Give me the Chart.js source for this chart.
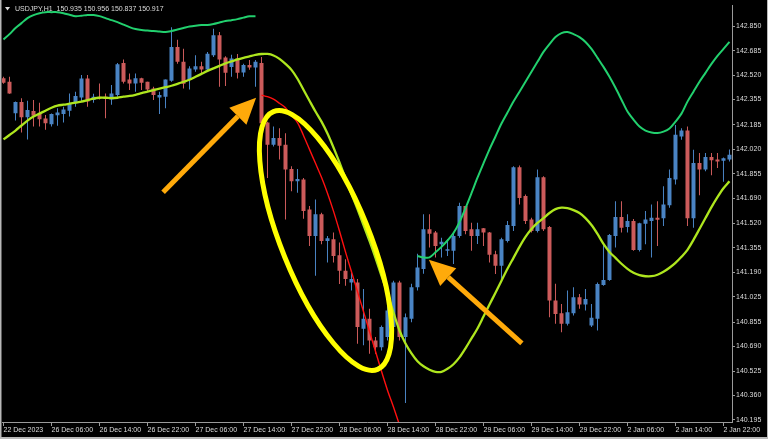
<!DOCTYPE html>
<html>
<head>
<meta charset="utf-8">
<script src="https://cdn.jsdelivr.net/npm/chart.js@4.4.1/dist/chart.umd.min.js"></script>
<style>
  html, body { margin: 0; padding: 0; background: #000; }
  #wrap { width: 768px; height: 439px; }
</style>
</head>
<body>
<div id="wrap"><canvas id="chart" width="768" height="439"></canvas></div>
<script>
// USDJPY H1 candles, one entry per bar (bar 0 = left edge of the chart)
const opens = [
  142.498,142.475,142.262,142.339,142.235,142.278,142.258,142.227,142.188,142.249,
  142.258,142.280,142.334,142.369,142.497,142.352,142.374,142.374,142.356,142.385,
  142.602,142.490,142.463,142.499,142.475,142.430,142.369,142.374,142.481,142.709,
  142.609,142.486,142.557,142.580,142.557,142.654,142.788,142.638,142.575,142.631,
  142.537,142.587,142.571,142.602,142.200,142.050,142.095,142.050,141.887,141.804,
  141.816,141.614,141.435,141.581,141.402,141.413,141.306,141.201,141.122,141.122,
  140.810,140.877,140.731,140.686,140.754,140.821,141.122,140.754,140.877,141.089,
  141.212,141.480,141.458,141.380,141.335,141.335,141.435,141.637,141.480,141.435,
  141.487,141.458,141.313,141.234,141.402,141.502,141.898,141.704,141.547,141.469,
  141.831,141.496,141.000,140.914,140.843,140.914,141.022,140.973,140.832,140.877,
  141.105,141.138,141.435,141.563,141.496,141.536,141.340,141.518,141.536,141.558,
  141.554,141.643,141.816,142.106,142.146,141.554,141.927,141.883,141.967,141.950,
  141.943,141.950
];
const highs = [
  142.508,142.508,142.341,142.363,142.347,142.352,142.334,142.251,142.260,142.296,
  142.307,142.396,142.408,142.520,142.520,142.394,142.463,142.396,142.453,142.602,
  142.624,142.530,142.530,142.501,142.475,142.441,142.408,142.490,142.843,142.758,
  142.698,142.580,142.654,142.609,142.676,142.832,142.810,142.647,142.656,142.662,
  142.597,142.622,142.622,142.642,142.206,142.173,142.161,142.128,141.905,141.887,
  141.826,141.637,141.681,141.592,141.435,141.458,141.391,141.279,141.189,141.145,
  141.078,140.944,140.754,140.832,141.000,141.134,141.134,140.912,141.114,141.315,
  141.581,141.581,141.469,141.424,141.415,141.458,141.659,141.637,141.525,141.525,
  141.489,141.462,141.335,141.424,141.536,141.905,141.911,141.715,141.558,141.883,
  141.838,141.502,141.114,140.977,141.067,141.089,141.045,141.078,140.977,141.122,
  141.380,141.449,141.670,141.670,141.581,141.549,141.525,141.603,141.648,141.670,
  141.771,141.883,142.184,142.161,142.173,142.017,141.994,141.994,141.994,141.994,
  141.965,142.019
];
const lows = [
  142.461,142.394,142.213,142.133,142.086,142.173,142.173,142.151,142.173,142.178,
  142.200,142.240,142.307,142.341,142.307,142.334,142.356,142.229,142.320,142.374,
  142.463,142.419,142.408,142.419,142.408,142.352,142.258,142.296,142.475,142.597,
  142.430,142.423,142.542,142.530,142.553,142.642,142.441,142.446,142.508,142.497,
  142.508,142.555,142.441,142.173,141.826,142.039,141.950,141.547,141.737,141.726,
  141.551,141.368,141.167,141.380,141.256,141.256,141.112,141.100,141.067,140.709,
  140.698,140.642,140.642,140.664,140.731,140.798,140.731,140.309,140.854,141.067,
  141.181,141.357,141.290,141.290,141.301,141.246,141.424,141.447,141.335,141.382,
  141.368,141.256,141.179,141.134,141.391,141.469,141.648,141.516,141.458,141.458,
  141.469,140.888,140.843,140.787,140.832,140.899,140.944,140.933,140.821,140.798,
  141.100,141.134,141.357,141.458,141.458,141.335,141.330,141.380,141.290,141.368,
  141.502,141.625,141.782,142.084,141.502,141.491,141.710,141.871,141.844,141.893,
  141.800,141.938
];
const closes = [
  142.468,142.396,142.339,142.235,142.285,142.245,142.222,142.195,142.258,142.267,
  142.287,142.325,142.379,142.497,142.341,142.374,142.365,142.361,142.396,142.593,
  142.475,142.463,142.499,142.468,142.423,142.385,142.385,142.490,142.709,142.609,
  142.461,142.564,142.580,142.557,142.664,142.788,142.624,142.535,142.631,142.535,
  142.587,142.571,142.609,142.195,142.050,142.095,142.043,141.883,141.804,141.820,
  141.603,141.435,141.581,141.402,141.420,141.301,141.201,141.145,141.145,140.821,
  140.877,140.731,140.686,140.821,140.933,141.122,140.754,140.888,141.089,141.223,
  141.480,141.451,141.368,141.397,141.346,141.435,141.637,141.469,141.435,141.480,
  141.458,141.308,141.234,141.413,141.509,141.898,141.692,141.536,141.469,141.831,
  141.480,141.000,140.910,140.843,140.921,141.022,140.973,141.011,140.884,141.112,
  141.138,141.442,141.563,141.491,141.536,141.340,141.521,141.547,141.558,141.545,
  141.648,141.826,142.117,142.146,141.554,141.927,141.883,141.967,141.945,141.938,
  141.960,141.983
];

// indicator lines
const upperBand = [
  142.760,142.796,142.837,142.870,142.904,142.924,142.937,142.944,142.944,142.944,
  142.937,142.927,142.917,142.920,142.925,142.924,142.917,142.904,142.890,142.877,
  142.860,142.843,142.830,142.823,142.820,142.817,142.813,142.810,142.817,142.827,
  142.837,142.847,142.853,142.857,142.857,142.864,142.874,142.884,142.890,142.897,
  142.907,142.916,142.917,
  null,null,null,null,null,null,null,null,null,null,null,null,null,
  null,null,null,null,null,null,null,null,null,null,null,null,null,
  141.301,141.291,141.291,141.325,141.362,141.405,141.455,141.529,141.623,141.724,
  141.828,141.925,142.019,142.106,142.193,142.267,142.341,142.408,142.475,142.542,
  142.609,142.676,142.729,142.776,142.803,142.810,142.796,142.776,142.743,142.696,
  142.636,142.575,142.508,142.434,142.354,142.274,142.220,142.173,142.146,142.133,
  142.129,142.139,142.160,142.206,142.260,142.341,142.408,142.475,142.535,142.595,
  142.649,142.696,142.743
];
const middleLine = [
  142.086,142.116,142.146,142.180,142.213,142.240,142.260,142.280,142.300,142.314,
  142.320,142.327,142.334,142.341,142.351,142.361,142.367,142.367,142.364,142.367,
  142.374,142.379,142.387,142.398,142.408,142.418,142.428,142.438,142.448,142.461,
  142.475,142.488,142.508,142.528,142.548,142.565,142.582,142.599,142.612,142.625,
  142.636,142.646,142.656,142.662,142.662,142.652,142.629,142.595,142.555,142.495,
  142.421,142.347,142.274,142.206,142.126,142.032,141.931,141.824,141.717,141.616,
  141.509,141.402,141.288,141.167,141.046,140.919,140.798,140.711,140.644,140.591,
  140.557,140.534,140.520,140.520,140.540,140.571,140.617,140.678,140.745,140.812,
  140.892,140.973,141.053,141.134,141.214,141.288,141.362,141.429,141.482,141.523,
  141.556,141.590,141.616,141.626,141.623,141.610,141.590,141.556,141.509,141.449,
  141.382,141.328,141.288,141.248,141.214,141.187,141.171,141.164,141.164,141.174,
  141.194,141.221,141.254,141.295,141.342,141.409,141.482,141.556,141.630,141.697,
  141.757,141.804
];
const redLineStart = 43;
const redLine = [
  142.385,142.374,142.357,142.330,142.300,142.247,142.200,142.113,142.019,141.925,
  141.831,141.724,141.603,141.469,141.328,141.194,141.060,140.926,140.792,140.658,
  140.524,140.396,140.282,140.162
];

// axis labels
const priceTicks = [142.850,142.685,142.520,142.355,142.185,142.020,141.855,141.690,141.520,
                    141.355,141.190,141.025,140.855,140.690,140.525,140.360,140.195];
const timeLabels = ['22 Dec 2023','26 Dec 06:00','26 Dec 14:00','26 Dec 22:00','27 Dec 06:00',
                    '27 Dec 14:00','27 Dec 22:00','28 Dec 06:00','28 Dec 14:00','28 Dec 22:00',
                    '29 Dec 06:00','29 Dec 14:00','29 Dec 22:00','2 Jan 06:00','2 Jan 14:00','2 Jan 22:00'];
const barsPerLabel = 8;
const header = 'USDJPY,H1  150.935 150.956 150.837 150.917';

// hand drawn marks, anchored in [bar, price]
const ellipseMark = { center: [53.67, 141.405], rx: 44, ry: 139, angle: -22 };
const arrowMarks = [
  { from: [26.6, 141.730], to: [42.1, 142.367] },
  { from: [86.4, 140.711], to: [70.9, 141.275] }
];

const upColor = '#4a84c4';
const downColor = '#cc5b5b';
const frameColor = '#9a9a9a';
const textColor = '#dcdcdc';
const tickFont = { family: 'Liberation Sans', size: 7 };

const barIdx = closes.map((_, i) => i);
const candleColor = ctx => closes[ctx.dataIndex] >= opens[ctx.dataIndex] ? upColor : downColor;

const chromePlugin = {
  id: 'chrome',
  beforeDraw(chart) {
    const c = chart.ctx;
    c.save();
    c.fillStyle = '#000';
    c.fillRect(0, 0, chart.width, chart.height);
    c.restore();
  },
  afterDatasetsDraw(chart) {
    const c = chart.ctx, xs = chart.scales.x, ys = chart.scales.y;
    c.save();
    // yellow ellipse
    const ex = xs.getPixelForValue(ellipseMark.center[0]);
    const ey = ys.getPixelForValue(ellipseMark.center[1]);
    c.strokeStyle = '#ffff00';
    c.lineWidth = 5;
    c.beginPath();
    c.ellipse(ex, ey, ellipseMark.rx, ellipseMark.ry, ellipseMark.angle * Math.PI / 180, 0, Math.PI * 2);
    c.stroke();
    // orange arrows
    c.strokeStyle = '#ffaa0a';
    c.fillStyle = '#ffaa0a';
    arrowMarks.forEach(a => {
      const x0 = xs.getPixelForValue(a.from[0]), y0 = ys.getPixelForValue(a.from[1]);
      const x1 = xs.getPixelForValue(a.to[0]), y1 = ys.getPixelForValue(a.to[1]);
      const ang = Math.atan2(y1 - y0, x1 - x0);
      const headLen = 26, headHalf = 12;
      const bx = x1 - headLen * Math.cos(ang), by = y1 - headLen * Math.sin(ang);
      c.lineWidth = 5;
      c.beginPath();
      c.moveTo(x0, y0);
      c.lineTo(bx, by);
      c.stroke();
      c.beginPath();
      c.moveTo(x1, y1);
      c.lineTo(bx + headHalf * Math.sin(ang), by - headHalf * Math.cos(ang));
      c.lineTo(bx - headHalf * Math.sin(ang), by + headHalf * Math.cos(ang));
      c.closePath();
      c.fill();
    });
    c.restore();
  },
  afterDraw(chart) {
    const c = chart.ctx;
    c.save();
    // header line
    c.fillStyle = textColor;
    c.beginPath();
    c.moveTo(5, 7); c.lineTo(10, 7); c.lineTo(7.5, 10.5);
    c.closePath();
    c.fill();
    c.font = '7px "Liberation Sans"';
    c.textBaseline = 'middle';
    c.fillText(header, 15, 9.5);
    // window border
    c.fillStyle = '#b8b8b8';
    c.fillRect(0, 0, 1.5, chart.height);
    c.fillRect(0, chart.height - 2, chart.width, 2);
    c.fillRect(chart.width - 1, 0, 1, chart.height);
    c.restore();
  }
};

new Chart(document.getElementById('chart'), {
  type: 'bar',
  data: {
    datasets: [
      {
        type: 'line', label: 'upper', order: 0,
        data: upperBand.map((v, i) => ({ x: i, y: v })),
        borderColor: '#22d06e', borderWidth: 2, pointRadius: 0, tension: 0.3, spanGaps: false
      },
      {
        type: 'line', label: 'middle', order: 0,
        data: middleLine.map((v, i) => ({ x: i, y: v })),
        borderColor: '#aee61e', borderWidth: 2.3, pointRadius: 0, tension: 0.3
      },
      {
        type: 'line', label: 'red', order: 0,
        data: redLine.map((v, k) => ({ x: redLineStart + k, y: v })),
        borderColor: '#ff1010', borderWidth: 1.4, pointRadius: 0, tension: 0.3
      },
      {
        label: 'bodies', order: 1,
        data: barIdx.map(i => ({ x: i, y: [opens[i], closes[i]] })),
        backgroundColor: candleColor,
        barThickness: 4, minBarLength: 1, grouped: false,
        borderWidth: 0, borderSkipped: false, inflateAmount: 0
      },
      {
        label: 'wicks', order: 2,
        data: barIdx.map(i => ({ x: i, y: [lows[i], highs[i]] })),
        backgroundColor: candleColor,
        barThickness: 1, grouped: false,
        borderWidth: 0, borderSkipped: false, inflateAmount: 0
      }
    ]
  },
  options: {
    responsive: false,
    animation: false,
    events: [],
    layout: { padding: { left: 2, top: 3, right: 0, bottom: 0 } },
    plugins: { legend: { display: false }, tooltip: { enabled: false }, title: { display: false } },
    scales: {
      x: {
        type: 'linear',
        min: -0.25, max: 121.42,
        offset: false,
        afterBuildTicks: s => { s.ticks = timeLabels.map((_, k) => ({ value: k * barsPerLabel })); },
        afterFit: s => { s.height = 17; },
        grid: { drawOnChartArea: false, tickLength: 4, color: frameColor, offset: false },
        border: { display: true, color: frameColor },
        ticks: {
          color: textColor, font: tickFont, padding: 0, align: 'start',
          maxRotation: 0, minRotation: 0, autoSkip: false,
          callback: (v, k) => timeLabels[k]
        }
      },
      y: {
        type: 'linear',
        position: 'right',
        min: 140.1815, max: 142.9908,
        afterBuildTicks: s => { s.ticks = priceTicks.map(v => ({ value: v })); },
        afterFit: s => { s.width = 36; },
        grid: { drawOnChartArea: false, tickLength: 3, color: frameColor },
        border: { display: true, color: frameColor },
        ticks: {
          color: textColor, font: tickFont, padding: 1, autoSkip: false,
          callback: v => Number(v).toFixed(3)
        }
      }
    }
  },
  plugins: [chromePlugin]
});
</script>
</body>
</html>
